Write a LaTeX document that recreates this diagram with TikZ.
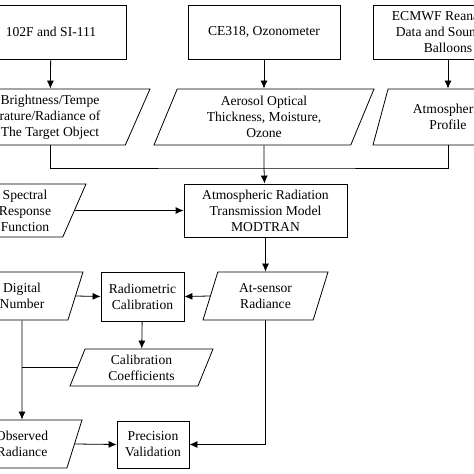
\documentclass[tikz,border=0pt]{standalone}
\usepackage{fontspec}
\setmainfont{Liberation Serif}
\usetikzlibrary{shapes.geometric,arrows.meta}

\begin{document}
\begin{tikzpicture}[x=1pt,y=-1pt,
	box/.style={draw, thick, align=center, inner sep=2pt, font=\fontsize{13.6}{16}\selectfont},
	data/.style={box, trapezium, trapezium left angle=63, trapezium right angle=117, trapezium stretches body},
	link/.style={thick, -{Latex[length=8pt,width=7pt]}}]
	\useasboundingbox (0,0) rectangle (474,474);
	\clip (0,0) rectangle (474,474);

	% sources
	\node[box, minimum width=150, minimum height=54] (sensor) at (51,32) {102F and SI-111};
	\node[box, minimum width=152, minimum height=54] (sunphot) at (264,32) {CE318, Ozonometer};
	\node[box, minimum width=150, minimum height=54] (ecmwf) at (448,32) {ECMWF Reanalysis\\Data and Sounding\\Balloons};

	% inputs
	\node[data, minimum width=200, minimum height=56] (bright) at (50,117) {Brightness/Tempe\\rature/Radiance of\\The Target Object};
	\node[data, minimum width=220, minimum height=56] (aerosol) at (264,117) {Aerosol Optical\\Thickness, Moisture,\\Ozone};
	\node[data, minimum width=150, minimum height=56] (profile) at (448,117) {Atmospheric\\Profile};
	\coordinate (join) at (264,168);

	\node[data, minimum width=122, minimum height=53] (srf) at (25,210.5) {Spectral\\Response\\Function};
	\node[box, minimum width=163, minimum height=53] (modtran) at (265.5,210.5) {Atmospheric Radiation\\Transmission Model\\MODTRAN};

	% calibration
	\node[data, minimum width=122, minimum height=48] (dn) at (22,296) {Digital\\Number};
	\node[box, minimum width=83, minimum height=49] (calib) at (142.5,296.5) {Radiometric\\Calibration};
	\node[data, minimum width=125, minimum height=48] (atsensor) at (265.5,296) {At-sensor\\Radiance};
	\node[data, minimum width=143, minimum height=37] (coef) at (141.5,367.5) {Calibration\\Coefficients};

	% validation
	\node[data, minimum width=120, minimum height=48] (observed) at (22,444) {Observed\\Radiance};
	\node[box, minimum width=72, minimum height=47] (valid) at (153,444.5) {Precision\\Validation};

	\draw[link] (sensor) -- (bright);
	\draw[link] (sunphot) -- (aerosol);
	\draw[link] (ecmwf) -- (profile);
	\draw[thick] (bright.south) |- (join) -| (profile.south);
	\draw[thick] (aerosol.south) -- (join);
	\draw[link] (join) -- (modtran);
	\draw[link] (srf.east) -- (modtran.west);
	\draw[link] (modtran) -- (atsensor);
	\draw[link] (atsensor.west) -- (calib.east);
	\draw[link] (dn.east) -- (calib.west);
	\draw[link] (calib) -- (coef);
	\draw[link] (dn.south) -- (observed.north);
	\draw[thick] (coef.west) -- (coef.west -| dn.south);
	\draw[link] (observed.east) -- (valid.west);
	\draw[link] (atsensor.south) |- (valid.east);
\end{tikzpicture}
\end{document}
